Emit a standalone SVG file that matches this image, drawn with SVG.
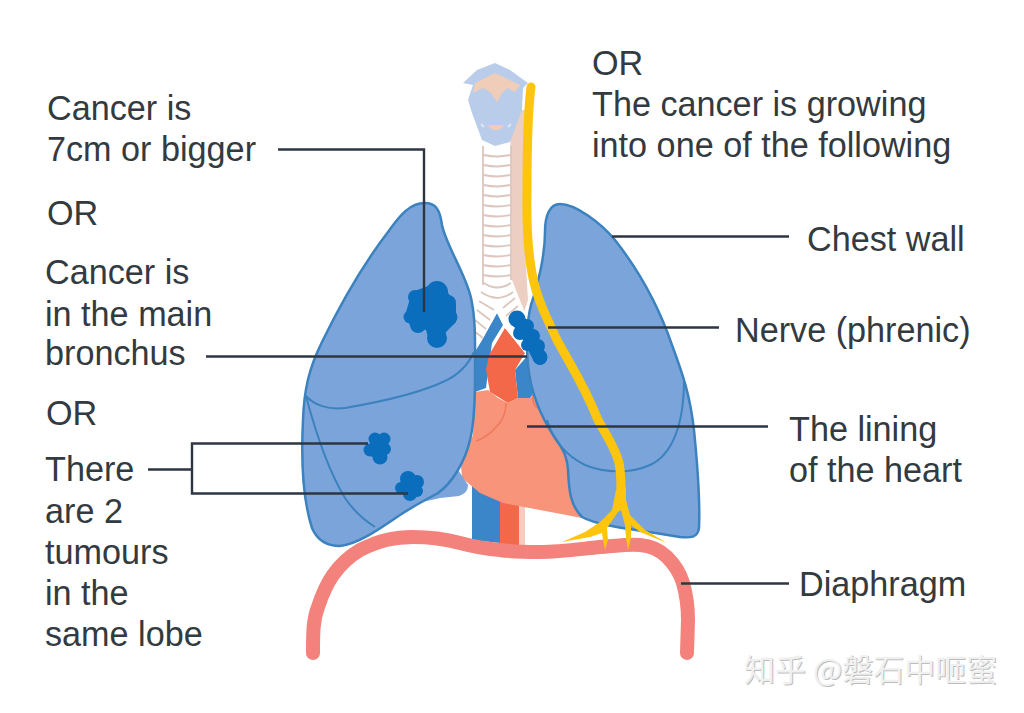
<svg xmlns="http://www.w3.org/2000/svg" width="1024" height="713" viewBox="0 0 1024 713">
<style>
.t{font-family:"Liberation Sans",Arial,sans-serif;font-size:34.2px;fill:#333a40}
.lung{fill:#7ba5da;stroke:#3b82bf;stroke-width:2.5;stroke-linejoin:round}
.fis{fill:none;stroke:#3b82bf;stroke-width:2}
.lead{fill:none;stroke:#2e3642;stroke-width:2.4}
.ring{fill:none;stroke:#dcc6bd;stroke-width:1.8}
.tum{fill:#0a6ebd}
.wm{font-family:"Noto Sans CJK SC","Liberation Sans",sans-serif;font-size:31px}
</style>
<rect width="1024" height="713" fill="#fff"/>
<g id="oesophagus">
<path d="M510 110H525V250L528 300L524 312L512 285Z" fill="#eccfc2"/>
<rect x="518" y="500" width="7" height="46" fill="#f8cdbf"/>
</g>
<g id="vessels">
<path d="M472 480H500V543L472 540Z" fill="#3b86c9"/>
<path d="M500 495H519V546L500 544Z" fill="#f4684a"/>
<path d="M497 313L503 325L492 343L487 380L486 388L475 392L474 353L482 340Z" fill="#3b86c9"/>
<path d="M515 370L528 355L534 393L530 398L518 398Z" fill="#3b86c9"/>
<path d="M505 328L525 353L515 370L518 398L508 403L490 392L486 370L489 355Z" fill="#f4684a"/>
</g>
<g id="trachea">
<path d="M483 146H511L512 280L527 318L525 353L505 328L497 313L482 340L474 353L474 320L482 283Z" fill="#fff"/>
<path class="ring" d="M483 146V285M511 146V280M484 155Q497 158 510 155M484 165Q497 168 510 165M484 175Q497 178 510 175M484 185Q497 188 510 185M484 195Q497 198 510 195M483 205Q497 208 511 205M483 215Q497 218 511 215M483 225Q497 228 511 225M483 235Q497 238 511 235M483 245Q497 248 511 245M483 255Q497 258 511 255M483 265Q497 268 511 265M483 275Q497 278 511 275"/>
<path class="ring" d="M484 283Q497 292 511 283M481 292Q488 297 497 298Q505 298 513 292M479 301L494 310M477 310L490 320M475 320L486 329M474 331L483 338M515 298L503 308M518 306L506 316"/>
</g>
<g id="larynx">
<path d="M463 83L477 70L495 63L510 70L528 83L523 88L522 110L510 142L495 146L482 140L472 113L468 100L473 85Z" fill="#b9cdea"/>
<path d="M475 83L495 73L520 85L515 92L507 88L502 93L497 102L490 92L483 88L473 93Z" fill="#f0cdb8"/>
<path d="M488 125H504Q502 130 496 130Q490 130 488 125Z" fill="#f0cdb8"/>
<path d="M481 124L484 127M511 124L508 127" stroke="#dfe6f3" stroke-width="2" fill="none"/>
</g>
<g id="heart">
<path d="M475 392L488 390L498 398L508 403L518 398L530 398L535 393L545 415L568 458L572 490L582 518L540 510L503 503L480 493L462 478L461 465L473 435Z" fill="#f79479"/>
<path d="M476 441Q489 436 496 427Q506 418 506 403" fill="none" stroke="#ef7a5d" stroke-width="1.6"/>
<path d="M533 395Q532 408 543 410" fill="none" stroke="#ef7a5d" stroke-width="1.6"/>
<circle cx="458" cy="477" r="3.5" fill="#f4806b"/>
</g>
<g id="left-lung">
<path d="M422 502L440 498L459 496Q468 493 468 485L458 470L440 490Z" fill="#7ba5da"/>
<path class="lung" d="M425 203C410 203 400 215 388 232C365 262 340 305 322 342C309 368 304 390 303 420C301 460 303 500 312 528C318 542 328 546 340 546C358 544 378 530 400 515C412 507 425 500 438 493C452 483 465 462 470 440C474 425 475 400 475 375C475 345 476 320 471 298C466 275 446 245 442 225C440 210 436 203 425 203Z"/>
<path class="fis" d="M306 396C314 405 328 410 345 408C380 402 420 393 445 381C458 375 468 365 474 352"/>
<path class="fis" d="M306 396C315 430 328 470 345 498C353 510 364 520 375 527"/>
</g>
<g id="right-lung">
<path class="lung" d="M560 204C550 204 545 215 545 232C545 255 538 285 531 305C527 320 526 345 528 365C531 395 543 420 555 438C563 449 567 456 568 470C569 490 570 505 582 517C600 527 640 530 680 537C690 538 698 538 699 528C700 505 698 470 694 430C690 395 683 375 672 345C660 310 640 272 615 240C600 222 575 204 560 204Z"/>
<path class="fis" d="M547 420C553 440 565 455 585 465C605 473 630 474 650 465C672 455 684 425 684 380"/>
</g>
<g id="diaphragm">
<path d="M313 653C313 633 313 620 318 607C322 595 326 585 333 575C340 565 350 556 360 550C380 540 395 537 413 537C430 537 445 539 460 543C475 547 487 549 500 550C513 552 527 552 540 552C560 552 580 549 600 547C615 546 628 544 640 545C652 546 660 550 667 557C675 565 680 573 683 583C687 597 688 608 688 620L687 653" fill="none" stroke="#f4827c" stroke-width="14" stroke-linecap="round"/>
</g>
<g id="nerve">
<path d="M531 87C528 110 527 140 527 190C526 240 530 270 536 290C542 310 548 320 556 338C566 358 582 380 598 420C608 438 616 450 619 463C621 473 621 480 621 490" fill="none" stroke="#fdc50e" stroke-width="9" stroke-linecap="round"/>
<path d="M616 490L612 510L600 522L585 532L562 542L590 537L602 533L603 540L605 550L608 540L607 528L618 512L621 510L625 525L626 538L628 550L631 538L631 525L640 532L667 543L645 530L630 515L626 500L626 487Z" fill="#fdc50e"/>
</g>
<g id="tumours">
<g class="tum">
<path d="M412 292L428 286L446 290L456 304L456 322L446 332L444 344L430 344L426 330L410 326L406 312Z"/>
<circle cx="415" cy="297" r="7"/><circle cx="410" cy="317" r="6.500"/><circle cx="418" cy="325" r="8"/><circle cx="437" cy="292" r="11"/><circle cx="448" cy="303" r="8"/><circle cx="450" cy="317" r="7.500"/><circle cx="437" cy="338" r="10"/>
</g>
<path d="M517 318L523 328L530 338L535 348L540 358" fill="none" stroke="#0a6ebd" stroke-width="14" stroke-linecap="round"/>
<g class="tum">
<circle cx="517" cy="319" r="8.500"/><circle cx="527" cy="326" r="7"/><circle cx="533" cy="336" r="7"/><circle cx="538" cy="346" r="7"/><circle cx="540" cy="357" r="7.500"/><circle cx="520" cy="333" r="7"/><circle cx="527" cy="345" r="6"/>
</g>
<g class="tum">
<path d="M371 437L387 436L388 452L382 462L369 455Z"/>
<circle cx="375" cy="439" r="6.500"/><circle cx="384" cy="439" r="6.500"/><circle cx="385" cy="449" r="6"/><circle cx="380" cy="457" r="7.500"/><circle cx="370" cy="450" r="6.500"/>
<path d="M404 477L419 480L419 492L408 498L399 489Z"/>
<circle cx="408" cy="479" r="8"/><circle cx="417" cy="482" r="7"/><circle cx="417" cy="491" r="6"/><circle cx="410" cy="494" r="7"/><circle cx="401" cy="488" r="6"/>
</g>
</g>
<g id="leaders">
<path class="lead" d="M278 149.500H424V312"/>
<path class="lead" d="M206 356.500H527"/>
<path class="lead" d="M148 469.500H192M368 443.500H192V493.500H408"/>
<path class="lead" d="M612 236.500H789"/>
<path class="lead" d="M548 327.500H719"/>
<path class="lead" d="M527 426.500H768"/>
<path class="lead" d="M681 583.500H789"/>
</g>
<g id="labels">
<text class="t" x="47" y="120">Cancer is</text>
<text class="t" x="47" y="161">7cm or bigger</text>
<text class="t" x="47" y="225">OR</text>
<text class="t" x="45" y="284">Cancer is</text>
<text class="t" x="45" y="325.500">in the main</text>
<text class="t" x="45" y="365">bronchus</text>
<text class="t" x="46" y="425">OR</text>
<text class="t" x="45" y="481">There</text>
<text class="t" x="45" y="522.500">are 2</text>
<text class="t" x="45" y="563.500">tumours</text>
<text class="t" x="45" y="604.500">in the</text>
<text class="t" x="45" y="645.500">same lobe</text>
<text class="t" x="592" y="74.500">OR</text>
<text class="t" x="592" y="115.500">The cancer is growing</text>
<text class="t" x="592" y="156.500">into one of the following</text>
<text class="t" x="807" y="250.500">Chest wall</text>
<text class="t" x="735" y="341.500">Nerve (phrenic)</text>
<text class="t" x="789" y="440.500">The lining</text>
<text class="t" x="789" y="481.500">of the heart</text>
<text class="t" x="799" y="595.500">Diaphragm</text>
</g>
<g id="watermark">
<text class="wm" x="745" y="682" fill="#bdbdbd">知乎 @磐石中咂蜜</text>
<text class="wm" x="744" y="681" fill="#f0f0f0">知乎 @磐石中咂蜜</text>
</g>
</svg>
